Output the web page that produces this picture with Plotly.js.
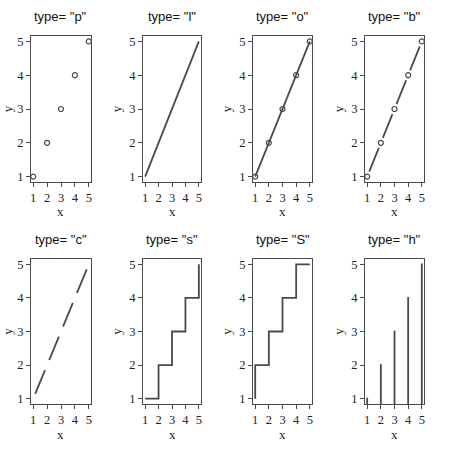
<!DOCTYPE html>
<html>
<head>
<meta charset="utf-8">
<script src="https://cdn.plot.ly/plotly-3.0.1.min.js"></script>
<style>
  html, body { margin: 0; padding: 0; background: #fff; }
  #plot { width: 461px; height: 450px; }
</style>
</head>
<body>
<div id="plot"></div>
<script>
const xVals = [1, 2, 3, 4, 5];
const yVals = [1, 2, 3, 4, 5];
const plotTypes = ['p', 'l', 'o', 'b', 'c', 's', 'S', 'h'];
const tickVals = [1, 2, 3, 4, 5];

const INK = '#4a4a4a';
const W = 461, H = 450;
const colPx = [[31, 91], [143, 201], [253, 312], [365, 424]];
const rowPx = [[36, 182], [259, 404]];
const serif = 'Liberation Serif, DejaVu Serif, serif';

function tracesFor(type, xa, ya) {
  const base = { x: xVals, y: yVals, xaxis: xa, yaxis: ya, showlegend: false, hoverinfo: 'skip' };
  const line = { color: INK, width: 1.8 };
  const ring = { symbol: 'circle-open', size: 5, color: INK, line: { width: 1.2, color: INK } };
  const blank = { symbol: 'circle', size: 11, color: '#fff', line: { width: 0 } };
  switch (type) {
    case 'p': return [{ ...base, type: 'scatter', mode: 'markers', marker: ring }];
    case 'l': return [{ ...base, type: 'scatter', mode: 'lines', line }];
    case 'o': return [{ ...base, type: 'scatter', mode: 'lines+markers', line, marker: ring }];
    case 'b': return [
      { ...base, type: 'scatter', mode: 'lines', line },
      { ...base, type: 'scatter', mode: 'markers', marker: blank },
      { ...base, type: 'scatter', mode: 'markers', marker: ring }
    ];
    case 'c': return [
      { ...base, type: 'scatter', mode: 'lines', line },
      { ...base, type: 'scatter', mode: 'markers', marker: blank }
    ];
    case 's': return [{ ...base, type: 'scatter', mode: 'lines', line: { ...line, shape: 'hv' } }];
    case 'S': return [{ ...base, type: 'scatter', mode: 'lines', line: { ...line, shape: 'vh' } }];
    // histogram-like vertical lines: zero-width bars drawn by their outline
    case 'h': return [{ ...base, type: 'bar', width: 0.001, marker: { color: INK, line: { width: 1.8, color: INK } } }];
  }
}

const data = [];
const layout = {
  width: W, height: H,
  margin: { l: 0, r: 0, t: 0, b: 0 },
  paper_bgcolor: '#fff', plot_bgcolor: '#fff',
  annotations: []
};

const axisCommon = {
  range: [0.84, 5.16],
  tickvals: tickVals,
  ticks: 'outside', ticklen: 4, tickwidth: 1, tickcolor: INK,
  showline: true, mirror: true, linecolor: INK, linewidth: 1,
  showgrid: false, zeroline: false, fixedrange: true,
  tickfont: { family: serif, size: 12.5, color: '#222' }
};

plotTypes.forEach((type, i) => {
  const c = i % 4, r = Math.floor(i / 4);
  const n = i + 1;
  const xa = n === 1 ? 'x' : 'x' + n;
  const ya = n === 1 ? 'y' : 'y' + n;
  const xd = [colPx[c][0] / W, colPx[c][1] / W];
  const yd = [1 - rowPx[r][1] / H, 1 - rowPx[r][0] / H];
  layout['xaxis' + (n === 1 ? '' : n)] = { ...axisCommon, domain: xd, anchor: ya };
  layout['yaxis' + (n === 1 ? '' : n)] = {
    ...axisCommon, domain: yd, anchor: xa,
    title: { text: 'y', standoff: 4, font: { family: serif, size: 13, color: '#222' } }
  };
  layout.annotations.push({
    text: 'type= "' + type + '"', xref: 'paper', yref: 'paper',
    x: (xd[0] + xd[1]) / 2, y: yd[1] + 10 / H, xanchor: 'center', yanchor: 'bottom',
    showarrow: false, font: { family: 'Liberation Sans, Arial, sans-serif', size: 13, color: '#111' }
  });
  layout.annotations.push({
    text: 'x', xref: 'paper', yref: 'paper',
    x: (xd[0] + xd[1]) / 2, y: yd[0] - 30 / H, xanchor: 'center', yanchor: 'middle',
    showarrow: false, font: { family: serif, size: 13, color: '#222' }
  });
  data.push(...tracesFor(type, xa, ya));
});

Plotly.newPlot('plot', data, layout, { staticPlot: true, displayModeBar: false });
</script>
</body>
</html>
